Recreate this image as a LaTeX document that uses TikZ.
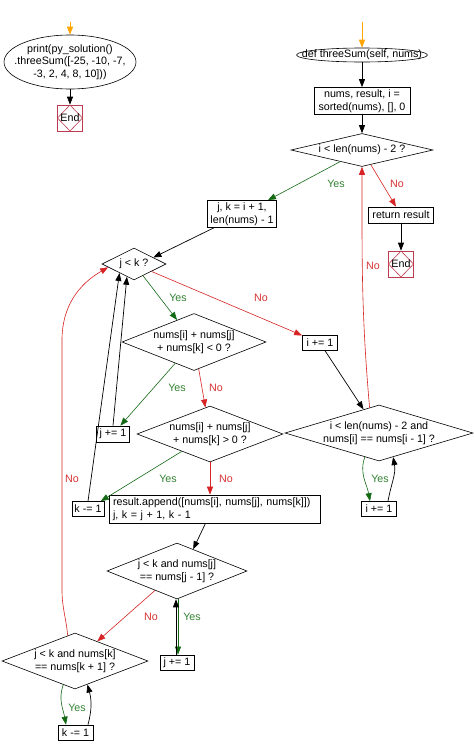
\documentclass[tikz,border=0pt]{standalone}
\usepackage{fontspec}
\setmainfont{Liberation Sans}
\usetikzlibrary{arrows.meta,shapes.geometric,calc}
\definecolor{ygreen}{RGB}{20,105,20}
\definecolor{ytext}{RGB}{50,130,50}
\definecolor{nred}{RGB}{215,35,35}
\definecolor{ntext}{RGB}{215,50,50}
\definecolor{endred}{RGB}{190,60,80}
\definecolor{orng}{RGB}{255,165,0}
\begin{document}
\begin{tikzpicture}[x=1pt,y=-1pt,
  txt/.style={font=\fontsize{10.7}{12.5}\selectfont, align=center, inner sep=0pt},
  box/.style 2 args={draw, line width=0.7pt, txt, minimum width=#1, minimum height=#2, inner sep=0pt},
  dia/.style 2 args={draw, line width=0.6pt, diamond, minimum width=#1, minimum height=#2, inner sep=0pt},
  ell/.style 2 args={draw, line width=0.6pt, ellipse, minimum width=#1, minimum height=#2, inner sep=0pt},
  endnode/.style={draw=endred, line width=0.6pt, txt, minimum width=25, minimum height=26, inner sep=0pt,
    path picture={\draw[endred, line width=0.6pt] (path picture bounding box.north) -- (path picture bounding box.east) -- (path picture bounding box.south) -- (path picture bounding box.west) -- cycle;}},
  tip/.style={-{Triangle[length=8pt,width=6pt]}},
  blk/.style={tip, line width=0.7pt, draw=black},
  yesl/.style={tip, line width=0.6pt, draw=ygreen},
  nol/.style={tip, line width=0.6pt, draw=nred},
  orl/.style={tip, line width=0.8pt, draw=orng},
  ylab/.style={txt, text=ytext},
  nlab/.style={txt, text=ntext}
]
\fill[white] (0,0) rectangle (474,753);
\useasboundingbox (0,0) rectangle (474,753);

% left part
\coordinate (s1) at (70,22);
\node[ell={132}{54}, label={[txt,name=e1t]center:{print(py\_solution()\\.threeSum([-25, -10, -7,\\-3, 2, 4, 8, 10]))}}] (e1) at (70,62) {};
\node[endnode] (end1) at (70,118) {End};

% right part
\coordinate (s2) at (362,22);
\node[ell={131}{14}, label={[txt,name=e2t]center:{def threeSum(self, nums)}}] (e2) at (362,55) {};
\node[box={96}{27}] (b1) at (362,101) {nums, result, i =\\sorted(nums), [], 0};
\node[dia={142}{33}, label={[txt,name=d1t]center:{i < len(nums) - 2 ?}}] (d1) at (362,150) {};
\node[box={69}{27}] (bjk) at (242,214) {j, k = i + 1,\\len(nums) - 1};
\node[box={65}{16}] (bret) at (401,215) {return result};
\node[endnode] (end2) at (401,264) {End};
\node[dia={64}{32}, label={[txt,name=djkt]center:{j < k ?}}] (djk) at (134,264) {};
\node[box={35}{15}] (binc1) at (320,343) {i += 1};
\node[dia={144}{57}, label={[txt,name=dlt0t]center:{nums[i] + nums[j]\\+ nums[k] < 0 ?}}] (dlt0) at (194,342) {};
\node[dia={188}{56}, label={[txt,name=dbigt]center:{i < len(nums) - 2 and\\nums[i] == nums[i - 1] ?}}] (dbig) at (379,433) {};
\node[box={33}{16}] (bj1) at (113,434) {j += 1};
\node[dia={146}{56}, label={[txt,name=dgt0t]center:{nums[i] + nums[j]\\+ nums[k] > 0 ?}}] (dgt0) at (210,434) {};
\node[box={32}{15}] (bk1) at (88,509) {k -= 1};
\node[draw, line width=0.7pt, txt, align=left, text width=203, inner xsep=4pt, inner ysep=0pt, minimum height=28] (bres) at (214.5,509) {result.append([nums[i], nums[j], nums[k]])\\j, k = j + 1, k - 1};
\node[box={35}{15}] (bi2) at (379,509) {i += 1};
\node[dia={140}{56}, label={[txt,name=djt]center:{j < k and nums[j]\\== nums[j - 1] ?}}] (dj) at (177,571) {};
\node[box={34}{15}] (bj2) at (177,662.5) {j += 1};
\node[dia={146}{56}, label={[txt,name=dkt]center:{j < k and nums[k]\\== nums[k + 1] ?}}] (dk) at (75,661) {};
\node[box={35}{15}] (bk2) at (75.5,732.5) {k -= 1};

\coordinate (cn1) at (62,590);
\coordinate (cn2) at (62,340);

% connectors
\draw[orl] (s1) -- (e1.north);
\draw[blk] (e1.south) -- (end1.north);
\draw[orl] (s2) -- (e2.north);
\draw[blk] (e2.south) -- (b1.north);
\draw[blk] (b1.south) -- (d1.north);
\draw[yesl] (d1) -- (bjk);
\draw[nol] (d1) -- (bret);
\draw[blk] (bret.south) -- (end2.north);
\draw[blk] (bjk) -- ($(djk.north)!0.6!(djk.east)$);
\draw[yesl] (djk) -- (dlt0);
\draw[nol] (djk) -- (binc1);
\draw[yesl] (dlt0) -- (bj1);
\draw[nol] (dlt0) -- (dgt0);
\draw[yesl] (dgt0) -- (bk1);
\draw[nol] (dgt0.south) -- (dgt0.south |- bres.north);
\draw[blk] ([xshift=-9]bres.south) -- ($(dj.north)!0.23!(dj.east)$);
\draw[yesl] ([xshift=1]dj.south) -- ([xshift=1]bj2.north);
\draw[blk] ([xshift=-1]bj2.north) -- ([xshift=-1]dj.south);
\draw[nol] (dj) -- (dk);
\draw[yesl] ($(dk.south)!0.16!(dk.west)$) to[out=-110,in=100] ([xshift=-9.5]bk2.north);
\draw[blk] ([xshift=12.5]bk2.north) to[out=75,in=-75] ($(dk.south)!0.17!(dk.east)$);
\draw[blk] (binc1) -- (dbig);
\draw[yesl] ($(dbig.south)!0.15!(dbig.west)$) to[out=-110,in=100] ([xshift=-9]bi2.north);
\draw[blk] ([xshift=9]bi2.north) to[out=80,in=-80] ($(dbig.south)!0.15!(dbig.east)$);
\draw[nol] ($(dbig.north)!0.1!(dbig.west)$) to[out=95,in=-90] (d1.south);
\draw[blk] (bk1.north) -- ($(djk.south)!0.45!(djk.west)$);
\draw[blk] (bj1.north) -- ($(djk.south)!0.22!(djk.west)$);
\draw[nol] ($(dk.north)!0.1!(dk.west)$) to[out=95,in=-90] (cn1) -- (cn2) to[out=90,in=210] ($(djk.west)!0.2!(djk.south)$);

% labels
\node[ylab] (ly1) at (336,184) {Yes};
\node[nlab] (ln1) at (397,184) {No};
\node[nlab] (ln2) at (373,266) {No};
\node[ylab] (ly2) at (178,298) {Yes};
\node[nlab] (ln3) at (261,298) {No};
\node[ylab] (ly3) at (177,388) {Yes};
\node[nlab] (ln4) at (216,388) {No};
\node[ylab] (ly4) at (168,479) {Yes};
\node[nlab] (ln5) at (226,479) {No};
\node[ylab] (ly5) at (380,479) {Yes};
\node[nlab] (ln6) at (72,479) {No};
\node[ylab] (ly6) at (192,617) {Yes};
\node[nlab] (ln7) at (151,617) {No};
\node[ylab] (ly7) at (77,708) {Yes};
\end{tikzpicture}
\end{document}
